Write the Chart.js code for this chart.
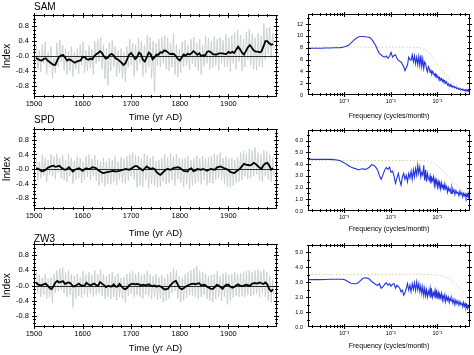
<!DOCTYPE html>
<html><head><meta charset="utf-8">
<script src="https://cdn.jsdelivr.net/npm/chart.js@4.4.0/dist/chart.umd.min.js"></script>
<style>
html,body{margin:0;padding:0;background:#fff;}
#wrap{position:relative;width:474px;height:355px;overflow:hidden;background:#fff;}
canvas{position:absolute;}
</style></head><body><div id="wrap"></div>
<script>
// ---------- DATA ----------
const panelNames = ['SAM', 'SPD', 'ZW3'];
const timeTickLabels = [1500, 1600, 1700, 1800, 1900];
const freqTickLabels = {'-3': '10\u207B\u00B3', '-2': '10\u207B\u00B2', '-1': '10\u207B\u00B9'};

// annual (grey) series sampled every 3 years from 1505
const grayStartYear = 1505, grayStepYears = 3;
// smoothed (black) series sampled every 4 years from 1504
const smoothStartYear = 1504, smoothStepYears = 4;

const samGray = [
 0.28,-0.35,0.15,-0.42,0.3,-0.2,0.38,-0.48,0.1,-0.3,
 0.25,-0.58,-0.05,-0.45,0.35,-0.3,0.42,-0.15,0.3,-0.38,
 0.2,-0.5,0.12,-0.4,0.25,-0.55,0.1,-0.35,0.2,-0.48,
 0.3,-0.25,0.38,-0.45,0.15,-0.4,0.28,-0.32,0.18,-0.5,
 0.4,-0.2,0.45,-0.15,0.5,-0.35,0.3,-0.62,0.2,-0.78,
 0.35,-0.4,0.42,-0.3,0.25,-0.55,0.15,-0.45,0.2,-0.6,
 0.1,-0.68,0.25,-0.3,0.45,-0.25,0.35,-0.55,0.3,-0.4,
 0.48,-0.2,0.4,-0.55,0.3,-0.45,0.55,-0.3,0.5,-0.6,
 0.4,-0.97,0.35,-0.25,0.45,-0.3,0.5,-0.2,0.55,-0.35,
 0.48,-0.4,0.35,-0.3,0.6,-0.5,0.3,-0.56,0.2,-0.45,
 0.38,-0.3,0.42,-0.25,0.3,-0.38,0.45,-0.2,0.5,-0.3,
 0.35,-0.4,0.45,-0.5,0.3,-0.28,0.55,-0.2,0.48,-0.35,
 0.4,-0.3,0.52,-0.25,0.45,-0.38,0.5,-0.2,0.42,-0.3,
 0.58,-0.28,0.48,-0.42,0.55,-0.2,0.62,-0.35,0.7,-0.15,
 0.55,-0.4,0.45,-0.3,0.65,-0.1,0.72,-0.25,0.6,-0.35,
 0.5,-0.38,0.62,-0.28,0.55,-0.3,0.87,-0.1,0.75,0.05,
 0.78,-0.05,0.6,0.2];
const samSmooth = [
 -0.05,-0.08,-0.11,-0.12,-0.08,-0.06,-0.12,-0.16,-0.2,-0.24,
 -0.24,-0.11,-0.02,0.02,0.03,-0.04,-0.12,-0.09,-0.11,-0.15,
 -0.18,-0.15,-0.13,-0.12,-0.02,-0.03,-0.08,-0.1,-0.07,-0.09,
 0,0.05,0.08,0.13,0.08,-0.01,-0.07,-0.05,0.03,0.06,
 0.01,-0.06,-0.09,-0.13,-0.18,-0.24,-0.2,-0.08,0.04,0.08,
 0.01,-0.08,-0.03,0.09,0.05,-0.1,-0.15,-0.04,0.09,0.05,
 -0.09,-0.04,0.04,0.03,0.1,0.09,0.15,0.13,0.09,0.05,
 0.06,0.05,0.0,-0.08,-0.12,-0.04,0.04,0.01,0.06,0.04,
 0.07,0.13,0.09,0.03,0.07,0.0,0.02,0.01,0.11,0.13,
 0.1,0.05,0.04,0.04,0.07,0.07,0.07,0.06,0.05,0.11,
 0.08,0.11,0.08,0.17,0.25,0.18,0.09,0.04,0.13,0.23,
 0.29,0.23,0.15,0.12,0.12,0.1,0.12,0.25,0.4,0.4,
 0.34,0.3,0.32];

const spdGray = [
 0.32,-0.3,0.2,-0.25,0.38,-0.18,0.3,-0.35,0.25,-0.15,
 0.4,-0.2,0.35,-0.28,0.42,-0.1,0.3,-0.25,0.38,-0.3,
 0.25,-0.35,0.4,-0.2,0.3,-0.4,0.22,-0.3,0.35,-0.25,
 0.3,-0.38,0.2,-0.3,0.35,-0.22,0.4,-0.3,0.28,-0.2,
 0.38,-0.32,0.25,-0.45,0.2,-0.38,0.3,-0.48,0.22,-0.4,
 0.3,-0.42,0.25,-0.35,0.35,-0.45,0.2,-0.3,0.32,-0.38,
 0.28,-0.4,0.35,-0.32,0.4,-0.2,0.45,-0.3,0.38,-0.5,
 0.35,-0.45,0.3,-0.48,0.42,-0.3,0.38,-0.52,0.3,-0.4,
 0.35,-0.45,0.22,-0.5,0.25,-0.48,0.3,-0.35,0.4,-0.42,
 0.32,-0.38,0.42,-0.3,0.35,-0.45,0.4,-0.28,0.3,-0.38,
 0.28,-0.5,0.3,-0.42,0.35,-0.55,0.25,-0.45,0.3,-0.4,
 0.38,-0.35,0.3,-0.42,0.35,-0.3,0.28,-0.45,0.32,-0.38,
 0.35,-0.4,0.42,-0.3,0.38,-0.25,0.45,-0.32,0.3,-0.4,
 0.35,-0.48,0.28,-0.5,0.3,-0.45,0.25,-0.38,0.32,-0.35,
 0.45,-0.3,0.5,-0.2,0.42,-0.28,0.55,-0.25,0.5,-0.2,
 0.59,-0.15,0.45,-0.3,0.4,-0.35,0.52,-0.2,0.48,-0.28,
 0.4,-0.35,0.3,-0.2];
const spdSmooth = [
 0.02,0.01,-0.02,-0.06,-0.05,-0.02,0.03,0.06,0.08,0.09,
 0.06,0.07,0.09,0.04,0.0,-0.02,0.0,0.05,-0.01,-0.07,
 -0.02,0.0,0.02,-0.01,-0.05,-0.01,0.02,0.0,0.01,0.05,
 0.04,0.02,-0.03,-0.07,-0.1,-0.11,-0.09,-0.08,-0.07,-0.06,
 -0.05,-0.07,-0.06,-0.05,-0.03,-0.02,0.0,-0.01,-0.02,0.01,
 0.05,0.08,0.08,0.03,0.0,-0.04,0.02,0.07,0.03,0.0,
 0.02,0.0,-0.08,-0.13,-0.16,-0.11,-0.06,-0.01,0.0,-0.02,
 0.0,0.03,0.04,0.05,0.03,-0.01,-0.05,-0.06,-0.07,0.0,
 0.02,-0.06,-0.04,0.0,-0.01,-0.02,0.0,-0.02,-0.05,-0.02,
 0.0,-0.01,-0.02,0.04,0.06,0.07,0.04,0.02,0.0,-0.03,
 -0.08,-0.1,-0.11,-0.07,-0.03,0.01,0.08,0.14,0.12,0.11,
 0.1,0.12,0.17,0.14,0.09,0.04,0.0,0.1,0.15,0.17,
 0.1,-0.02,0.02];

const zw3Gray = [
 0.35,-0.2,0.28,-0.3,0.2,-0.25,0.3,-0.35,0.18,-0.3,
 0.22,-0.45,0.3,-0.2,0.4,-0.15,0.45,-0.1,0.48,-0.2,
 0.35,-0.3,0.4,-0.25,0.3,-0.58,0.25,-0.35,0.3,-0.28,
 0.22,-0.32,0.38,-0.25,0.3,-0.3,0.35,-0.22,0.28,-0.3,
 0.4,-0.25,0.3,-0.2,0.42,-0.28,0.3,-0.35,0.25,-0.3,
 0.3,-0.35,0.35,-0.3,0.25,-0.38,0.32,-0.3,0.2,-0.35,
 0.22,-0.45,0.3,-0.28,0.35,-0.22,0.38,-0.3,0.3,-0.25,
 0.35,-0.3,0.28,-0.35,0.3,-0.25,0.38,-0.3,0.3,-0.35,
 0.25,-0.3,0.3,-0.38,0.22,-0.35,0.28,-0.45,0.2,-0.4,
 0.3,-0.35,0.35,-0.2,0.45,-0.15,0.4,-0.35,0.25,-0.45,
 0.2,-0.4,0.3,-0.32,0.35,-0.25,0.4,-0.28,0.45,-0.3,
 0.52,-0.35,0.38,-0.3,0.35,-0.25,0.3,-0.35,0.25,-0.4,
 0.28,-0.45,0.3,-0.35,0.38,-0.3,0.25,-0.4,0.32,-0.3,
 0.35,-0.5,0.28,-0.4,0.3,-0.32,0.35,-0.28,0.3,-0.3,
 0.32,-0.28,0.35,-0.3,0.38,-0.25,0.4,-0.28,0.35,-0.25,
 0.4,-0.22,0.42,-0.3,0.38,-0.2,0.43,-0.3,0.35,-0.4,
 0.25,-0.45,0.15,-0.3];
const zw3Smooth = [
 0.08,0.03,0.01,0.01,0.03,0.05,0.0,-0.06,-0.1,-0.02,
 0.08,0.12,0.08,0.1,0.11,0.04,0.07,0.08,0.05,-0.02,
 -0.02,0.01,0.05,0.01,-0.01,0.0,0.07,0.03,0.0,0.03,
 0.05,0.01,0.0,0.09,0.05,0.01,-0.04,-0.01,-0.02,-0.03,
 0.03,-0.03,-0.03,0.04,-0.02,-0.08,-0.1,-0.06,0.01,0.04,
 0.05,0.03,0.04,0.03,0.0,0.02,0.01,0.01,0.03,0.0,
 -0.02,0.0,-0.03,-0.01,-0.02,-0.06,-0.1,-0.1,-0.08,0.0,
 0.05,0.1,0.12,0.02,-0.07,-0.1,-0.07,-0.03,0.0,0.02,
 0.04,0.05,0.03,0.05,0.06,0.0,0.02,0.01,-0.03,-0.06,
 -0.09,-0.09,-0.04,0.02,0.0,-0.04,-0.09,-0.02,0.02,0.02,
 -0.03,-0.06,-0.04,0.0,0.03,0.0,-0.02,0.0,0.02,0.01,
 -0.01,0.04,0.06,0.06,0.05,0.08,0.06,0.04,0.08,0.03,
 -0.1,-0.15,-0.1];

// spectra: frequency (cycles/month) and power
const freq = [
 0.000167,0.0002,0.00025,0.0003,0.0004,0.0005,0.0006,0.0007,0.0008,0.0009,
 0.001,0.0011,0.0012,0.0013,0.0014,0.0016,0.0018,0.002,0.0022,0.0025,
 0.0028,0.0031,0.0035,0.0039,0.0043,0.0047,0.0052,0.0057,0.0062,0.0068,
 0.0074,0.008,0.0087,0.0094,0.0101,0.0109,0.0117,0.0126,0.0135,0.0145,
 0.0155,0.0166,0.0177,0.0189,0.0201,0.0214,0.0228,0.0242,0.0257,0.0272,
 0.0288,0.0305,0.0322,0.034,0.0359,0.0378,0.0398,0.0419,0.044,0.0462,
 0.0485,0.0509,0.0533,0.0558,0.0584,0.0611,0.0639,0.0667,0.0696,0.0726,
 0.0757,0.0789,0.0822,0.0856,0.089,0.0926,0.0962,0.1,0.104,0.108,
 0.112,0.117,0.122,0.127,0.132,0.138,0.144,0.15,0.157,0.164,
 0.171,0.179,0.187,0.196,0.205,0.215,0.226,0.237,0.249,0.262,
 0.275,0.29,0.305,0.32,0.335,0.35,0.365,0.38,0.395,0.41,
 0.425,0.44,0.455,0.47,0.485,0.5];
const samPower = [
 7.9,7.9,7.9,7.9,7.95,7.95,8.0,8.0,8.0,8.05,
 8.15,8.25,8.35,8.55,8.8,9.25,9.6,9.8,9.9,9.9,
 9.85,9.8,9.75,9.4,8.9,8.4,7.6,7.0,6.8,6.5,
 6.4,6.6,6.2,6.6,7.2,6.4,6.7,6.8,6.2,5.9,
 5.7,5.6,5.2,4.8,4.1,4.6,5.1,6.4,6.0,5.9,
 6.8,5.6,6.6,5.3,6.4,5.1,6.5,5.0,6.7,4.8,
 6.1,4.5,5.6,5.3,4.4,3.9,4.8,4.5,3.8,4.3,
 3.5,4.0,3.7,3.3,3.6,3.2,3.4,3.0,3.1,2.7,
 2.9,2.5,2.8,2.3,2.6,2.2,2.4,2.0,2.2,1.7,
 1.9,1.5,1.8,1.4,1.6,1.3,1.5,1.2,1.35,1.05,
 1.2,0.95,1.1,0.85,1.0,0.8,0.95,0.75,0.9,0.7,
 0.85,0.7,0.9,0.75,0.95,0.85];
const spdPower = [
 4.4,4.4,4.4,4.4,4.4,4.4,4.38,4.35,4.3,4.2,
 4.1,4.0,3.9,3.8,3.75,3.65,3.6,3.5,3.55,3.6,
 3.55,3.6,3.75,3.95,3.9,3.75,3.5,3.0,2.7,3.1,
 3.5,3.7,3.55,3.75,3.3,3.4,3.0,2.35,2.8,3.2,
 2.6,2.2,2.9,3.2,2.7,3.05,2.5,3.2,2.8,3.4,
 2.7,3.5,2.9,3.6,3.05,3.9,3.2,3.75,2.9,3.3,
 3.05,3.9,2.6,3.5,2.5,3.2,2.8,2.6,3.0,2.35,
 2.8,2.6,2.9,2.2,2.7,2.3,2.6,2.05,2.5,2.2,
 2.45,1.9,2.4,2.0,2.2,1.75,2.3,1.9,2.1,1.6,
 2.0,1.7,1.9,1.5,2.0,1.6,1.8,1.4,1.75,1.5,
 1.6,1.3,1.7,1.4,1.55,1.2,1.5,1.3,1.45,1.15,
 1.4,1.25,1.5,1.2,1.35,1.3];
const zw3Power = [
 3.18,3.18,3.18,3.18,3.19,3.2,3.2,3.2,3.2,3.2,
 3.18,3.12,3.05,2.98,2.93,2.9,2.9,2.96,3.1,3.25,
 3.3,3.28,3.2,3.05,2.95,2.85,2.8,2.9,2.6,2.7,
 2.87,2.96,2.8,2.91,2.73,2.87,2.91,2.6,2.8,2.7,
 2.6,2.36,2.47,2.13,2.3,2.58,2.91,2.47,2.8,2.36,
 2.91,2.52,2.96,2.45,3.02,2.5,2.9,2.36,2.75,2.24,
 2.7,2.13,2.6,2.1,2.5,2.02,2.4,2.15,2.6,1.95,
 2.4,2.0,2.3,2.1,2.45,1.9,2.35,2.02,2.3,1.85,
 2.2,1.95,2.25,1.8,2.1,1.9,2.15,1.7,2.05,1.8,
 2.0,1.65,1.95,1.75,1.9,1.6,1.85,1.5,1.8,1.55,
 1.75,1.45,1.7,1.5,1.6,1.35,1.65,1.4,1.55,1.3,
 1.5,1.25,1.45,1.35,1.4,1.36];

// red-noise reference spectra (dotted)
const rnFreq = [0.000167,0.001,0.01,0.03,0.05,0.07,0.1,0.15,0.2,0.3,0.4,0.5];
const samRedNoise = [8.1,8.1,8.1,8.05,7.8,6.9,5.3,3.4,2.3,1.25,0.85,0.65];
const spdRedNoise = [4.3,4.3,4.3,4.3,4.28,4.2,3.85,3.2,2.65,1.95,1.55,1.3];
const zw3RedNoise = [3.53,3.53,3.53,3.53,3.53,3.52,3.48,3.35,3.12,2.62,2.2,1.9];

// ---------- DRAWING ----------
const FONT = '"Liberation Sans", Arial, Helvetica, sans-serif';
Chart.defaults.font.family = FONT;
Chart.defaults.color = '#000';

function mkCanvas(left, top, w, h) {
  const c = document.createElement('canvas');
  c.width = w; c.height = h;
  c.style.left = left + 'px'; c.style.top = top + 'px';
  c.style.width = w + 'px'; c.style.height = h + 'px';
  document.getElementById('wrap').appendChild(c);
  return c;
}

const framePlugin = {
  id: 'frame',
  afterDatasetsDraw(chart, args, o) {
    const {ctx, chartArea: a} = chart;
    const xs = chart.scales.x, ys = chart.scales.y;
    const L = Math.round(a.left) + 0.5, R = Math.round(a.right) - 0.5;
    const T = Math.round(a.top) + 0.5, B = Math.round(a.bottom) - 0.5;
    ctx.save();
    ctx.strokeStyle = '#000';
    if (o.zero) {
      const y0 = Math.round(ys.getPixelForValue(0)) + 0.5;
      ctx.lineWidth = 0.8;
      ctx.beginPath(); ctx.moveTo(L, y0); ctx.lineTo(R, y0); ctx.stroke();
    }
    ctx.lineWidth = 1;
    ctx.strokeRect(L, T, R - L, B - T);
    ctx.beginPath();
    const seg = (x1, y1, x2, y2) => { ctx.moveTo(x1, y1); ctx.lineTo(x2, y2); };
    const xt = (vals, len) => vals.forEach(v => {
      const px = Math.round(xs.getPixelForValue(v)) + 0.5;
      if (px < L - 0.1 || px > R + 0.1) return;
      seg(px, B - len, px, B + len); seg(px, T - len, px, T + len);
    });
    const yt = (vals, len) => vals.forEach(v => {
      const py = Math.round(ys.getPixelForValue(v)) + 0.5;
      if (py < T - 0.1 || py > B + 0.1) return;
      seg(L - len, py, L + len, py); seg(R - len, py, R + len, py);
    });
    xt(o.xMajor, 2.5); xt(o.xMinor, 1.5); yt(o.yMajor, 2.5); yt(o.yMinor, 1.5);
    ctx.stroke();
    ctx.restore();
  }
};

function range(a, b, s) { const r = []; for (let v = a; v <= b + 1e-9; v += s) r.push(Math.round(v * 1000) / 1000); return r; }

const timeMinor = range(1500, 2000, 20);
const indexMajor = [-0.8, -0.4, 0, 0.4, 0.8];
const indexMinor = range(-1.1, 1.1, 0.1);

function leftPanel(p) {
  const c = mkCanvas(0, p.top, 282, p.height);
  const gray = p.gray.map((v, i) => ({x: grayStartYear + grayStepYears * i, y: v}));
  const smooth = p.smooth.map((v, i) => ({x: smoothStartYear + smoothStepYears * i, y: v}));
  new Chart(c, {
    type: 'line',
    data: {datasets: [
      {data: smooth, borderColor: '#000', borderWidth: 1.8, pointRadius: 0, tension: 0},
      {data: gray, borderColor: '#c2cac7', borderWidth: 0.8, pointRadius: 0, tension: 0}
    ]},
    options: {
      responsive: false, animation: false, devicePixelRatio: 1,
      layout: {padding: {left: 0, right: 5, top: 0, bottom: 0}},
      plugins: {legend: {display: false}, tooltip: {enabled: false},
        frame: {zero: true, xMajor: timeTickLabels, xMinor: timeMinor, yMajor: indexMajor, yMinor: indexMinor}},
      scales: {
        x: {type: 'linear', position: 'bottom', min: 1500, max: 2000,
          afterFit: s => { s.height = p.bottomH; },
          grid: {display: false, drawTicks: false}, border: {display: false},
          ticks: {stepSize: 100, autoSkip: false, maxRotation: 0, padding: 2, font: {size: 7.5},
            callback: v => timeTickLabels.includes(v) ? String(v) : ''},
          title: {display: true, text: 'Time (yr AD)', font: {size: 9.5}, padding: {top: 0, bottom: p.timePad}}},
        x2: {type: 'linear', position: 'top', min: 1500, max: 2000,
          afterFit: s => { s.height = p.topH; },
          grid: {display: false, drawTicks: false}, border: {display: false}, ticks: {display: false},
          title: {display: true, text: p.name, align: 'start', font: {size: 10}, padding: {top: p.namePad, bottom: 0}}},
        y: {type: 'linear', min: -1.1, max: 1.1,
          afterFit: s => { s.width = 34; },
          grid: {display: false, drawTicks: false}, border: {display: false},
          ticks: {stepSize: 0.4, includeBounds: false, padding: 5, font: {size: 7.5},
            callback: v => Math.abs(v) < 1e-9 ? '-0.0' : v.toFixed(1)},
          title: {display: true, text: 'Index', font: {size: 10}, padding: {top: 1, bottom: 0}}}
      }
    },
    plugins: [framePlugin]
  });
}

const decadeMajor = [0.001, 0.01, 0.1];
const decadeMinor = [];
[0.0001, 0.001, 0.01, 0.1].forEach(d => { for (let k = 2; k <= 9; k++) decadeMinor.push(d * k); });

function freqLabel(v) {
  const e = Math.log10(v);
  const r = Math.round(e);
  if (Math.abs(e - r) < 1e-6 && freqTickLabels[String(r)]) return freqTickLabels[String(r)];
  return '';
}

function rightPanel(p) {
  const c = mkCanvas(282, p.top, 192, p.height);
  new Chart(c, {
    type: 'line',
    data: {datasets: [
      {data: freq.map((f, i) => ({x: f, y: p.power[i]})), borderColor: '#2334dd', borderWidth: 1.1, pointRadius: 0, tension: 0},
      {data: rnFreq.map((f, i) => ({x: f, y: p.rn[i]})), borderColor: '#d6d0a4', borderWidth: 1, borderDash: [1.5, 2],
        pointRadius: 0, cubicInterpolationMode: 'monotone'}
    ]},
    options: {
      responsive: false, animation: false, devicePixelRatio: 1,
      layout: {padding: {left: 0, right: 4, top: 14, bottom: 0}},
      plugins: {legend: {display: false}, tooltip: {enabled: false},
        frame: {zero: false, xMajor: decadeMajor, xMinor: decadeMinor, yMajor: p.yMajor, yMinor: p.yMinor}},
      scales: {
        x: {type: 'logarithmic', min: 0.000167, max: 0.5,
          afterFit: s => { s.height = p.bottomH; },
          grid: {display: false, drawTicks: false}, border: {display: false},
          ticks: {autoSkip: false, maxRotation: 0, padding: 3, font: {size: 5.5}, callback: v => freqLabel(v)},
          title: {display: true, text: 'Frequency (cycles/month)', font: {size: 7}, padding: {top: 0, bottom: p.freqPad}}},
        y: {type: 'linear', min: 0, max: p.ymax,
          afterFit: s => { s.width = 26; },
          grid: {display: false, drawTicks: false}, border: {display: false},
          ticks: {stepSize: p.ystep, includeBounds: false, padding: 5, font: {size: 5.5}, callback: p.fmt}}
      }
    },
    plugins: [framePlugin]
  });
}

leftPanel({name: panelNames[0], gray: samGray, smooth: samSmooth, top: 0, height: 125, topH: 15, bottomH: 28, namePad: 1.5, timePad: 2.3});
leftPanel({name: panelNames[1], gray: spdGray, smooth: spdSmooth, top: 112, height: 128, topH: 17, bottomH: 31, namePad: 2.1, timePad: 1.3});
leftPanel({name: panelNames[2], gray: zw3Gray, smooth: zw3Smooth, top: 232, height: 123, topH: 12, bottomH: 28, namePad: 1.6, timePad: 1.3});

rightPanel({power: samPower, rn: samRedNoise, top: 0, height: 122, bottomH: 27, freqPad: 1.3,
  ymax: 13.7, ystep: 2, yMajor: [0,2,4,6,8,10,12], yMinor: range(1, 13, 2), fmt: v => String(Math.round(v))});
rightPanel({power: spdPower, rn: spdRedNoise, top: 116, height: 119, bottomH: 24, freqPad: 1.8,
  ymax: 6.9, ystep: 1, yMajor: [0,1,2,3,4,5,6], yMinor: range(0.5, 6.5, 1), fmt: v => v.toFixed(1)});
rightPanel({power: zw3Power, rn: zw3RedNoise, top: 231, height: 121, bottomH: 25, freqPad: 1.8,
  ymax: 5.5, ystep: 1, yMajor: [0,1,2,3,4,5], yMinor: range(0.5, 5.5, 1), fmt: v => v.toFixed(1)});
</script></body></html>
